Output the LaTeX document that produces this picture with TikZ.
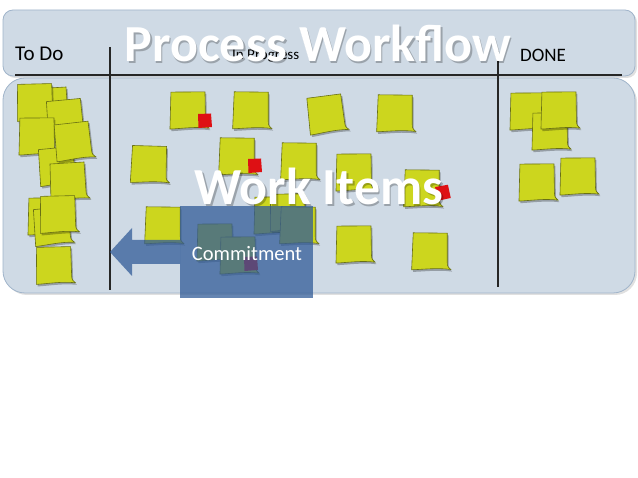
\documentclass[tikz,border=0pt]{standalone}
\usepackage{fontspec}
\setmainfont{Carlito}
\definecolor{boardfill}{RGB}{207,218,229}
\definecolor{boardline}{RGB}{160,180,202}
\definecolor{notefill}{RGB}{204,214,30}
\definecolor{noteline}{RGB}{105,112,20}
\definecolor{tagred}{RGB}{222,16,20}
\definecolor{commitblue}{RGB}{50,92,152}
\tikzset{
  board/.style={fill=boardfill,draw=boardline,line width=0.8pt},
  lane/.style={line width=1.1pt,draw=black!85},
  sticky/.pic={
    \fill[black,opacity=0.28,shift={(1.5,2)}] (-18,-17) -- (16,-19) -- (18,10) .. controls (18,14) and (20,16) .. (22,17) .. controls (8,16) and (-6,19) .. (-17,20) -- cycle;
    \filldraw[fill=notefill,draw=noteline,line width=0.6pt] (-18,-17) -- (16,-19) -- (18,10) .. controls (18,14) and (20,16) .. (22,17) .. controls (8,16) and (-6,19) .. (-17,20) -- cycle;
  },
  tag/.pic={
    \fill[tagred] (-7,-7) -- (6,-7.5) -- (7,6) -- (-6.5,7) -- cycle;
  },
  bigtitle/.style={font=\fontsize{52}{60}\selectfont\bfseries,text=white,inner sep=0pt,anchor=base},
  bigshadow/.style={font=\fontsize{52}{60}\selectfont\bfseries,text=black,opacity=0.25,inner sep=0pt,anchor=base},
  lanelabel/.style={inner sep=0pt,anchor=base west,text=black}
}
\begin{document}
\begin{tikzpicture}[x=1pt,y=-1pt]
\useasboundingbox (0,0) rectangle (638,478);
% header
\fill[black,opacity=0.12,rounded corners=10pt] (5,12) rectangle (637,78);
\draw[board,rounded corners=10pt] (3,10) rectangle (635,76);
% board
\fill[black,opacity=0.12,rounded corners=22pt] (5,80) rectangle (637,295);
\draw[board,rounded corners=22pt] (3,78) rectangle (635,293);
% lane lines
\coordinate (hl) at (15,75);
\coordinate (hr) at (622,75);
\coordinate (l1t) at (110,47);
\coordinate (l1b) at (110,290);
\coordinate (l2t) at (498,51);
\coordinate (l2b) at (498,287);
\draw[lane] (hl) -- (hr);
\draw[lane] (l1t) -- (l1b);
\draw[lane] (l2t) -- (l2b);
% lane labels
\node[lanelabel,font=\fontsize{21}{24}\selectfont] (todo) at (15,61) {To Do};
\node[lanelabel,font=\fontsize{15}{18}\selectfont] (inprog) at (232,60) {In Progress};
\node[lanelabel,font=\fontsize{19}{22}\selectfont] (done) at (520,62) {DONE};
% To Do notes
\pic[rotate=0] at (50,106) {sticky};
\pic[rotate=-2] at (35,102) {sticky};
\pic[rotate=2] at (65,118) {sticky};
\pic[rotate=-3] at (37,136) {sticky};
\pic[rotate=2] at (57,166) {sticky};
\pic[rotate=3] at (73,141) {sticky};
\pic[rotate=0] at (68,181) {sticky};
\pic[rotate=-3] at (46,216) {sticky};
\pic[rotate=2] at (52,226) {sticky};
\pic[rotate=-2] at (58,214) {sticky};
\pic[rotate=-2] at (54,265) {sticky};
% In Progress notes
\pic[rotate=-3] at (188,110) {sticky};
\pic at (205,121) {tag};
\pic[rotate=-4] at (251,110) {sticky};
\pic[rotate=4] at (326,114) {sticky};
\pic[rotate=-4] at (395,113) {sticky};
\pic[rotate=-5] at (149,164) {sticky};
\pic[rotate=-4] at (237,156) {sticky};
\pic at (255,166) {tag};
\pic[rotate=-4] at (299,161) {sticky};
\pic[rotate=-3] at (354,172) {sticky};
\pic[rotate=-4] at (422,188) {sticky};
\pic[rotate=8] at (443,193) {tag};
\pic[rotate=-4] at (163,225) {sticky};
\pic[rotate=-3] at (354,244) {sticky};
\pic[rotate=-4] at (430,251) {sticky};
\pic[rotate=-3] at (272,215) {sticky};
\pic[rotate=-2] at (288,212) {sticky};
\pic[rotate=-4] at (298,225) {sticky};
\pic[rotate=-3] at (215,242) {sticky};
\pic[rotate=-3] at (238,255) {sticky};
\pic at (251,264) {tag};
% Done notes
\pic[rotate=-3] at (528,111) {sticky};
\pic[rotate=-3] at (550,131) {sticky};
\pic[rotate=-3] at (559,110) {sticky};
\pic[rotate=-3] at (537,182) {sticky};
\pic[rotate=-3] at (578,176) {sticky};
% commitment overlay and arrow
\fill[commitblue,opacity=0.75] (180,240) -- (132,240) -- (132,228) -- (110,252) -- (132,276) -- (132,264) -- (180,264) -- cycle;
\fill[commitblue,opacity=0.75] (180,206) rectangle (313,298);
\node[text=white,font=\fontsize{20.5}{24}\selectfont,inner sep=0pt,anchor=base] (commit) at (247,261) {Commitment};
% titles
\node[bigshadow] (ptshadow) at (319.5,63.5) {Process Workflow};
\node[bigtitle] (ptitle) at (318,62) {Process Workflow};
\node[bigshadow] (wishadow) at (320.5,206.5) {Work Items};
\node[bigtitle] (wititle) at (319,205) {Work Items};
\end{tikzpicture}
\end{document}
